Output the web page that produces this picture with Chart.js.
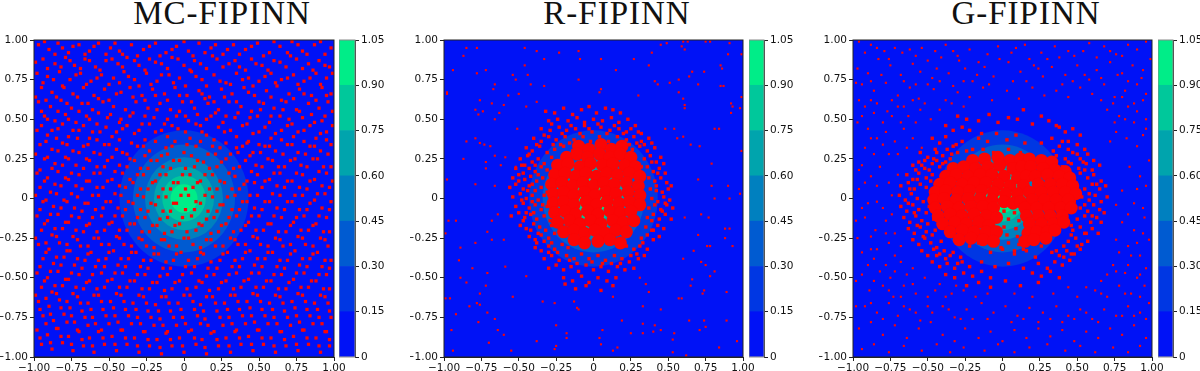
<!DOCTYPE html>
<html>
<head>
<meta charset="utf-8">
<script src="https://cdn.jsdelivr.net/npm/chart.js@4"></script>
<style>
html, body { margin: 0; background: #fff; overflow: hidden; }
canvas { position: absolute; top: 0; }
.ttl { position: absolute; top: -5px; transform: translateX(-50%); font: 33px "Liberation Serif", serif; letter-spacing: 1px; color: #111; white-space: nowrap; }
</style>
</head>
<body>
<script>
const axisTicks = [-1, -0.75, -0.5, -0.25, 0, 0.25, 0.5, 0.75, 1];
const levels = [0, 0.15, 0.3, 0.45, 0.6, 0.75, 0.9, 1.05];
const bandColors = ['#0012f6', '#0037e3', '#005bd1', '#0080bf', '#00a4ad', '#00c89b', '#00ed88'];
// outer radius of the bands above the first one
const ringRadii = [0.43, 0.34, 0.26, 0.2, 0.145, 0.09];

// sample points, x,y pairs in hundredths, estimated by eye (thinned where the picture is too dense to read)
const mcPoints = [
-97,97,-90,94,-84,98,-77,92,-70,97,-63,93,-57,98,-49,95,-41,91,-35,97,-27,94,-19,98,-12,92,-5,96,3,93,10,98,18,95,26,91,33,97,41,94,49,98,57,92,64,96,72,99,79,93,87,97,94,91,
-94,88,-86,85,-79,89,-73,84,-66,88,-59,83,-52,87,-44,85,-38,89,-30,84,-23,88,-15,85,-8,89,0,84,7,87,15,82,22,88,30,85,37,83,45,88,52,84,60,87,68,83,75,88,83,85,90,87,97,83,
-98,79,-91,77,-83,80,-76,75,-69,79,-62,74,-55,78,-47,76,-40,80,-33,75,-25,79,-18,74,-10,78,-3,76,5,80,12,75,20,78,28,73,35,79,43,76,50,74,58,79,65,75,73,78,80,74,88,79,95,76,
-95,70,-88,67,-81,71,-74,66,-67,70,-60,65,-53,69,-45,66,-36,70,-28,65,-21,69,-13,66,-6,70,2,65,10,68,17,64,25,69,32,66,40,70,47,65,55,68,62,71,70,66,77,69,85,65,92,70,98,66,
-97,61,-89,58,-82,62,-75,57,-68,60,-61,56,-54,61,-47,58,-39,56,-32,61,-24,57,-16,60,-9,56,-1,61,7,57,14,63,16,60,23,56,30,61,38,58,45,55,53,60,60,57,68,61,75,56,83,60,90,57,96,61,
-93,52,-86,49,-79,53,-72,48,-65,52,-58,47,-51,51,-43,48,-36,52,-28,47,-20,51,-13,47,-5,52,3,49,11,46,18,52,26,48,34,51,42,47,49,52,57,48,64,52,72,47,79,51,87,48,94,52,
-98,43,-91,40,-84,44,-77,39,-70,43,-63,38,-56,42,-48,39,-41,44,-33,41,-26,37,-19,42,-11,39,-4,44,4,38,12,42,20,37,27,42,35,39,43,36,50,42,58,38,65,43,73,39,80,43,88,38,95,42,
-96,34,-88,31,-81,35,-74,30,-67,33,-60,29,-53,34,-45,31,-38,28,-31,33,-23,30,-15,27,-8,33,0,29,8,33,16,28,24,32,31,28,39,33,46,29,54,33,61,30,69,34,76,29,84,33,91,30,98,34,
-93,25,-86,22,-79,26,-72,21,-65,25,-58,20,-51,24,-43,21,-36,25,-29,19,-22,24,-14,20,-7,24,1,19,9,24,17,19,25,23,33,19,41,24,48,21,56,25,63,20,71,24,78,21,86,25,93,20,
-98,16,-91,13,-84,17,-77,12,-70,15,-63,11,-56,16,-48,12,-41,16,-34,10,-27,15,-19,11,-12,15,-4,10,4,15,11,11,19,15,27,10,34,14,42,11,49,15,57,12,64,16,72,11,79,15,87,12,95,16,
-96,7,-89,4,-82,8,-75,3,-68,6,-61,2,-54,7,-46,3,-39,7,-31,2,-24,6,-17,1,-9,6,-2,2,6,7,14,2,22,6,29,1,37,6,44,2,52,7,59,3,67,7,74,2,82,6,89,3,97,7,
-94,-2,-87,-5,-80,-1,-73,-6,-66,-3,-59,-7,-52,-2,-44,-6,-37,-2,-29,-7,-22,-3,-14,-8,-7,-3,1,-7,8,-2,16,-8,24,-4,32,-7,39,-2,47,-6,54,-2,62,-6,69,-2,77,-7,84,-3,92,-6,98,-2,
-98,-11,-91,-14,-84,-10,-77,-15,-70,-12,-63,-16,-55,-11,-48,-15,-41,-11,-33,-16,-26,-12,-18,-17,-11,-12,-3,-16,5,-11,12,-17,20,-12,28,-16,35,-11,43,-15,50,-11,58,-16,65,-12,73,-15,80,-11,88,-16,95,-12,
-95,-20,-88,-23,-81,-19,-74,-24,-67,-21,-60,-25,-53,-20,-45,-24,-38,-20,-30,-25,-23,-21,-15,-26,-8,-21,0,-25,8,-20,15,-26,23,-21,31,-25,38,-20,46,-24,53,-20,61,-25,68,-21,76,-24,83,-20,91,-25,97,-21,
-97,-29,-90,-32,-83,-28,-76,-33,-69,-30,-62,-34,-55,-29,-47,-33,-40,-29,-32,-34,-25,-30,-17,-35,-10,-30,-2,-34,6,-29,13,-35,21,-30,29,-34,36,-29,44,-33,51,-29,59,-34,66,-30,74,-33,81,-29,89,-34,96,-30,
-94,-38,-87,-41,-80,-37,-73,-42,-66,-39,-59,-43,-52,-38,-44,-42,-37,-38,-29,-43,-22,-39,-14,-44,-7,-39,1,-43,9,-38,16,-44,24,-39,32,-43,39,-38,47,-42,54,-38,62,-43,69,-39,77,-42,84,-38,92,-43,98,-39,
-98,-47,-91,-50,-84,-46,-77,-51,-70,-48,-63,-52,-55,-47,-48,-51,-41,-47,-33,-52,-26,-48,-18,-53,-11,-48,-3,-52,5,-47,12,-53,20,-48,28,-52,35,-47,43,-51,50,-47,58,-52,65,-48,73,-51,80,-47,88,-52,95,-48,
-95,-56,-88,-59,-81,-55,-74,-60,-67,-57,-60,-61,-53,-56,-45,-60,-38,-56,-30,-61,-23,-57,-15,-62,-8,-57,0,-61,8,-56,15,-62,23,-57,31,-61,38,-56,46,-60,53,-56,61,-61,68,-57,76,-60,83,-56,91,-61,97,-57,
-97,-65,-90,-68,-83,-64,-76,-69,-69,-66,-62,-70,-55,-65,-47,-69,-40,-65,-32,-70,-25,-66,-17,-71,-10,-66,-2,-70,6,-65,13,-71,21,-66,29,-70,36,-65,44,-69,51,-65,59,-70,66,-66,74,-69,81,-65,89,-70,96,-66,
-94,-74,-87,-77,-80,-73,-73,-78,-66,-75,-59,-79,-52,-74,-44,-78,-37,-74,-29,-79,-22,-75,-14,-80,-7,-75,1,-79,9,-74,16,-80,24,-75,32,-79,39,-74,47,-78,54,-74,62,-79,69,-75,77,-78,84,-74,92,-79,98,-75,
-98,-83,-91,-86,-84,-82,-77,-87,-70,-84,-63,-88,-55,-83,-48,-87,-41,-83,-33,-88,-26,-84,-18,-89,-11,-84,-3,-88,5,-83,12,-89,20,-84,28,-88,35,-83,43,-87,50,-83,58,-88,65,-84,73,-87,80,-83,88,-88,95,-84,
-95,-92,-88,-95,-81,-91,-74,-96,-67,-93,-60,-97,-53,-92,-45,-96,-38,-92,-30,-97,-23,-93,-15,-98,-8,-93,0,-97,8,-92,15,-98,23,-93,31,-97,38,-92,46,-96,53,-92,61,-97,68,-93,76,-96,83,-92,91,-97,97,-93
];
const mcClumps = [
-93,99,-86,91,-81,95,-74,96,-66,91,-60,96,-52,91,-46,98,-43,93,-31,90,-23,96,-16,90,-8,94,0,99,6,90,14,92,21,97,29,94,37,91,45,96,53,90,60,99,69,92,76,97,82,91,91,99,98,95,
-99,86,-91,82,-82,83,-76,87,-69,82,-63,87,-56,81,-48,88,-41,83,-33,87,-26,81,-19,86,-11,82,-4,88,4,81,11,85,19,90,26,83,34,87,41,81,48,85,56,81,64,86,71,90,79,82,86,81,94,84,
-94,73,-87,75,-80,70,-72,78,-65,72,-58,76,-50,72,-43,73,-37,77,-30,71,-22,72,-15,78,-7,73,1,71,8,77,15,71,24,74,31,72,39,75,46,71,54,77,61,73,69,76,76,72,84,76,91,72,99,79,
-99,64,-92,62,-85,64,-78,60,-71,64,-64,60,-57,63,-50,62,-42,67,-34,64,-26,62,-19,65,-11,62,-3,65,5,61,12,66,20,61,27,64,35,61,43,67,50,61,58,64,65,62,73,63,80,66,88,62,95,65,
-95,55,-91,50,-84,55,-77,50,-70,55,-63,50,-57,54,-49,53,-42,50,-34,54,-26,52,-18,56,-11,50,-3,55,1,52,9,53,15,50,21,54,28,52,36,54,44,51,51,56,58,52,66,56,70,50,77,55,85,53,92,49,99,55,
-95,46,-88,43,-81,47,-74,43,-67,46,-61,42,-52,45,-45,42,-38,46,-30,43,-23,47,-15,43,-8,46,1,42,8,47,15,40,23,45,31,43,39,46,46,41,54,45,61,41,69,46,76,42,84,46,91,41,99,46,
-92,36,-85,38,-78,34,-71,38,-64,34,-58,37,-50,34,-43,37,-35,35,-27,33,-19,36,-12,32,-6,36,2,34,11,36,19,33,28,35,35,32,42,35,50,34,57,33,65,37,72,34,80,36,87,33,95,37,
-99,28,-91,26,-84,30,-77,25,-70,29,-63,24,-56,28,-48,26,-41,29,-33,24,-26,27,-18,24,-11,28,-3,24,5,27,13,23,21,28,28,25,36,29,44,27,51,29,59,24,66,28,74,25,81,28,89,25,96,28,
-96,18,-88,19,-81,21,-75,16,-67,19,-60,16,-53,20,-46,17,-38,20,-31,15,-24,19,-16,15,-9,19,-1,15,7,20,14,15,22,20,30,16,37,20,45,17,52,20,60,16,67,20,75,16,82,20,90,17,98,20,
-93,11,-86,9,-79,13,-72,8,-65,11,-58,7,-51,11,-43,8,-36,12,-29,6,-21,10,-14,6,-7,10,1,6,9,10,17,6,24,11,32,6,40,9,47,10,54,11,62,8,69,11,77,7,84,11,92,8,99,11,
-99,2,-92,-1,-85,3,-78,-2,-71,1,-64,-3,-57,2,-49,-2,-42,2,-34,-3,-27,1,-19,-4,-12,1,-5,-3,3,2,11,-3,19,1,26,-4,34,2,42,-2,49,2,57,-2,64,2,72,-2,79,2,87,-1,94,3,
-96,-7,-89,-10,-82,-6,-75,-11,-68,-8,-61,-12,-54,-6,-46,-11,-39,-7,-31,-12,-24,-8,-16,-13,-9,-8,-1,-12,7,-7,15,-13,22,-8,30,-12,37,-7,45,-11,52,-7,60,-11,67,-7,75,-12,82,-7,90,-11,97,-7,
-93,-16,-86,-19,-79,-15,-72,-20,-65,-17,-58,-21,-50,-16,-43,-20,-36,-16,-28,-21,-21,-17,-13,-22,-6,-17,2,-21,10,-16,18,-22,25,-17,33,-21,41,-17,48,-20,56,-16,63,-21,71,-17,78,-20,86,-17,93,-21,
-99,-25,-92,-28,-85,-24,-78,-29,-71,-26,-64,-30,-57,-25,-50,-29,-43,-25,-35,-30,-28,-26,-20,-31,-13,-26,-5,-30,3,-25,11,-31,18,-26,26,-30,34,-26,41,-29,49,-25,56,-30,64,-26,71,-29,79,-25,86,-30,94,-26,
-92,-34,-85,-37,-78,-33,-71,-38,-64,-35,-57,-39,-50,-34,-42,-38,-35,-34,-27,-39,-20,-35,-12,-40,-5,-35,3,-39,11,-34,18,-40,26,-35,34,-39,41,-34,49,-38,56,-34,64,-39,71,-35,79,-38,86,-35,94,-39,
-96,-43,-89,-46,-82,-42,-75,-47,-68,-44,-61,-48,-53,-43,-46,-47,-39,-43,-31,-48,-24,-44,-16,-49,-9,-44,-1,-48,7,-43,15,-49,22,-44,30,-48,37,-43,45,-47,52,-43,60,-48,67,-44,75,-47,82,-43,90,-48,97,-44,
-93,-52,-86,-55,-79,-51,-72,-56,-65,-53,-58,-57,-51,-52,-43,-56,-36,-52,-28,-57,-21,-53,-13,-58,-6,-53,2,-57,10,-52,17,-58,25,-53,33,-57,40,-52,48,-56,55,-52,63,-57,70,-53,78,-56,85,-52,93,-57,
-99,-61,-92,-63,-85,-60,-78,-65,-71,-62,-64,-66,-57,-61,-49,-65,-42,-61,-34,-66,-27,-62,-19,-67,-12,-62,-4,-66,4,-61,11,-67,19,-62,27,-66,34,-61,42,-65,49,-61,57,-66,64,-62,72,-65,79,-61,87,-66,94,-62,
-96,-70,-89,-73,-82,-69,-75,-74,-68,-71,-61,-75,-54,-70,-46,-74,-39,-70,-31,-75,-24,-71,-16,-76,-9,-71,-1,-75,7,-70,14,-76,22,-71,30,-75,37,-70,45,-74,52,-70,60,-75,67,-71,75,-74,82,-70,90,-75,97,-71,
-92,-79,-85,-82,-78,-78,-71,-83,-64,-80,-57,-84,-50,-79,-42,-83,-35,-79,-27,-84,-20,-80,-12,-85,-5,-80,3,-84,11,-79,18,-85,26,-80,34,-84,41,-79,49,-83,56,-79,64,-84,71,-80,79,-83,86,-79,94,-84,
-96,-88,-89,-91,-82,-87,-75,-92,-68,-89,-61,-93,-54,-88,-46,-92,-39,-88,-31,-93,-24,-89,-16,-94,-9,-89,-1,-93,7,-88,14,-94,22,-89,30,-93,37,-88,45,-92,52,-88,60,-93,67,-89,75,-92,82,-88,90,-93,97,-89
];

const rOutliers = [
-85,95,-78,95,-46,95,-38,93,-23,92,-10,93,-87,90,-33,88,-9,88,5,88,27,88,39,92,45,97,49,98,60,99,63,99,75,99,78,99,91,98,59,96,61,94,90,91,99,91,
-94,81,-78,79,-72,81,-46,84,-44,78,-54,78,-52,75,-10,75,15,81,37,84,66,80,64,77,74,80,85,84,86,82,41,74,43,72,51,73,57,75,70,72,85,71,87,71,
-66,72,-67,69,-42,72,-33,71,5,69,4,67,-98,67,-98,66,-57,65,-50,66,30,65,57,67,60,63,99,64,-76,62,-68,60,-38,61,-45,58,-60,59,-79,56,-74,55,-77,53,-63,54,-66,50,61,59,61,57,92,60,93,58,92,54,98,57,
-51,44,-85,36,-79,38,-76,35,-73,34,-69,33,-66,27,-87,25,-59,26,-62,21,-72,23,-72,19,-52,20,54,44,48,44,60,39,56,38,81,44,84,44,65,34,71,33,99,30,79,22,-98,12,-79,9,-66,8,70,12,79,8,90,8,98,3,91,0,81,0,
-68,-14,-64,-10,-92,-14,-97,-14,72,-10,77,-12,61,-12,-99,-22,-71,-21,-79,-28,-68,-26,-60,-26,-89,-31,-90,-39,-81,-44,-71,-47,-89,-50,-85,-53,-72,-55,-59,-43,-45,-49,
88,-19,91,-19,88,-25,93,-30,78,-30,76,-30,70,-23,67,-33,60,-38,72,-40,75,-42,81,-46,78,-49,66,-51,65,-55,89,-59,74,-58,73,-60,59,-63,37,-59,35,-54,31,-50,13,-62,
-76,-60,-96,-63,-99,-63,-54,-62,-83,-68,-78,-66,-76,-67,-71,-72,-92,-73,-34,-65,-26,-66,-13,-65,-11,-69,-10,-70,33,-68,45,-70,57,-63,-77,-78,-66,-76,-95,-83,-64,-83,-60,-86,-70,-91,-94,-96,-55,-96,-38,-90,-25,-80,-18,-85,-18,-88,-25,-93,-26,-95,
4,-88,6,-83,5,-92,13,-96,16,-94,19,-77,25,-85,33,-79,41,-80,33,-85,40,-84,45,-83,54,-85,53,-89,53,-97,62,-99,64,-77,74,-77,75,-81,71,-83,84,-94,96,-90,89,-77
];
const rHalo = [
-32,55,-26,54,-20,57,-14,53,-8,56,-3,58,2,54,8,57,13,56,18,54,-30,49,-24,50,-17,49,-11,51,-6,48,0,50,6,49,12,51,17,48,23,50,-35,44,-29,43,-23,45,-18,43,-12,44,-6,46,-1,42,5,45,11,43,17,44,22,42,28,46,32,41,
-40,38,-35,36,-30,39,-25,37,-19,39,-13,37,-7,39,-2,36,4,39,10,36,16,39,22,37,27,39,32,36,37,38,30,42,-45,32,-41,30,-36,33,-31,29,-26,31,-20,33,-14,30,-8,32,20,32,26,31,31,33,36,30,41,32,
-49,25,-44,27,-41,23,-37,25,-33,22,-28,26,-25,23,34,25,38,27,42,23,45,26,-52,19,-48,21,-43,19,-39,17,-35,20,-31,18,-28,16,36,20,40,17,44,19,48,16,
-54,13,-50,15,-46,12,-42,14,-38,11,-34,13,-30,10,37,13,41,11,45,13,49,10,52,8,-56,7,-52,9,-47,6,-43,8,-39,5,-35,7,-31,4,38,6,42,8,46,4,50,6,-54,1,-49,3,-45,0,-41,2,-37,-1,-33,2,39,0,43,-2,47,1,51,-1,
-52,-5,-47,-3,-43,-6,-39,-4,-35,-7,-31,-5,37,-6,41,-4,45,-7,49,-4,53,-6,-55,-11,-50,-9,-46,-12,-42,-10,-38,-13,-33,-11,-29,-14,36,-12,40,-10,44,-13,48,-10,52,-13,
-49,-17,-45,-19,-40,-16,-36,-18,-32,-20,-28,-17,35,-18,39,-20,43,-17,47,-19,-43,-24,-39,-26,-35,-23,-30,-25,-26,-22,32,-25,36,-23,40,-26,44,-24,
-39,-31,-35,-33,-30,-30,-26,-32,-21,-29,-17,-31,22,-30,27,-32,31,-30,36,-32,-33,-38,-28,-36,-23,-39,-18,-36,-13,-38,-8,-35,-3,-38,3,-36,8,-39,14,-36,19,-38,25,-36,30,-38,
-30,-44,-25,-42,-20,-45,-15,-43,-10,-46,-5,-42,0,-45,5,-43,10,-46,16,-43,21,-45,27,-44,-20,-50,-14,-52,-8,-49,-3,-53,3,-50,9,-52,15,-50,-19,-54,-12,-57,-5,-55,5,-58,13,-55,
-28,47,-21,41,-15,46,-9,41,-3,44,3,47,9,41,14,46,20,41,25,44,-33,40,-38,34,-27,34,-22,34,-16,35,-10,34,-4,33,7,34,13,33,24,34,29,35,34,34,39,35,-43,28,-39,21,-46,21,-47,16,-41,9,-37,15,32,20,39,23,43,16,47,22,
-50,11,-44,5,-48,-1,-41,-2,-45,-9,-40,-9,-34,-4,42,5,48,-3,46,-8,39,-14,-47,-14,-42,-20,-37,-22,-33,-27,-28,-28,-38,-28,-30,-34,-24,-34,-16,-39,-11,-41,-1,-40,6,-41,12,-41,18,-41,24,-40,33,-28,40,-20,29,-35,34,-36
];
const rCore = [
-10,33,-3,31,5,34,12,31,19,33,
-18,26,-11,28,-4,26,4,28,11,26,18,28,25,26,
-24,21,-17,22,-9,20,-2,22,6,21,13,22,21,21,28,20,
-26,15,-19,16,-12,14,-5,16,2,14,9,16,16,15,24,16,31,14,
-28,9,-21,10,-14,8,-7,10,0,8,7,10,14,9,22,10,30,8,
-27,3,-20,4,-13,2,-6,4,1,2,8,4,15,3,23,4,31,2,
-27,-3,-20,-2,-13,-4,-5,-2,2,-4,9,-2,17,-3,24,-2,31,-4,
-26,-9,-19,-8,-12,-10,-4,-8,3,-10,11,-8,18,-9,25,-8,
-24,-15,-16,-14,-9,-16,-2,-14,5,-16,13,-14,20,-15,27,-14,
-20,-21,-13,-20,-6,-22,1,-20,8,-22,15,-20,22,-21,
-13,-26,-6,-28,3,-27,11,-26,18,-28
];

const gOutliers = [
-96,99,-88,97,-79,93,-72,95,-67,92,-62,94,-54,95,-45,93,-38,97,-30,90,-22,94,-10,91,-3,96,6,92,15,97,26,92,35,96,44,93,58,98,68,96,76,91,84,97,96,99,-97,82,-90,79,-83,88,-75,84,-68,78,-60,85,-55,80,-47,76,-44,82,-36,79,-29,87,-20,74,-12,83,-6,77,4,86,12,80,18,88,27,77,33,83,42,78,50,84,58,75,63,81,72,86,80,79,87,84,93,76,99,88,
-94,72,-86,68,-78,73,-70,65,-62,70,-56,63,-46,69,-38,62,-30,67,-22,64,-13,70,-7,62,3,68,11,63,20,70,28,65,36,68,44,64,52,70,60,66,68,72,75,64,82,68,90,72,96,66,-92,58,-84,60,-77,55,-70,58,-63,52,-55,56,-48,50,84,58,78,52,70,56,90,55,96,50,
-97,48,-90,44,-84,38,-92,32,-86,28,-78,42,-72,36,-66,44,-60,38,-54,32,76,42,83,38,90,33,96,44,72,36,-94,21,-88,14,-82,20,-76,10,-70,15,-96,6,-90,-3,-80,-6,-74,2,85,20,92,14,98,24,80,5,88,-3,96,8,
-92,-12,-85,-20,-78,-14,-72,-22,-97,-25,-88,-32,-84,-32,-76,-28,-68,-30,80,-15,88,-20,95,-12,76,-26,84,-30,92,-36,98,-26,-90,-42,-82,-46,-75,-50,-68,-40,-60,-44,74,-42,82,-47,90,-50,96,-44,70,-48,
-98,-52,-89,-58,-80,-55,-73,-62,-66,-55,-58,-60,-52,-50,-45,-58,-38,-62,-31,-55,62,-58,70,-62,78,-55,86,-60,95,-55,50,-62,-92,-68,-84,-72,-76,-66,-70,-74,-62,-70,-55,-77,-47,-72,-40,-68,-32,-75,-24,-70,-14,-66,-6,-72,2,-68,10,-74,18,-69,27,-72,36,-68,44,-74,52,-70,60,-76,68,-70,76,-74,84,-68,92,-72,98,-66,
-96,-82,-88,-78,-80,-86,-72,-80,-64,-88,-56,-82,-48,-78,-40,-86,-32,-90,-25,-82,-16,-88,-8,-84,0,-90,8,-83,16,-88,24,-82,32,-87,40,-83,48,-90,56,-84,64,-88,72,-82,80,-86,88,-80,96,-88,-94,-95,-86,-92,-76,-97,-66,-93,-54,-96,-44,-92,-35,-97,-26,-94,-12,-96,-3,-92,8,-97,18,-94,30,-92,42,-96,52,-93,62,-97,74,-94,84,-97,92,-93,
-92,92,-84,95,-76,88,-58,90,-50,87,-41,89,-33,93,-25,82,-16,86,-2,88,9,95,21,84,30,88,38,89,48,90,54,93,63,89,72,93,80,90,90,94,-98,73,-88,74,-81,78,-66,74,-58,72,-50,72,-42,74,-33,71,-26,74,-17,78,-9,72,7,74,16,74,24,82,40,72,47,74,55,78,66,76,77,78,84,74,94,81,
-96,62,-88,62,-74,62,-66,58,-60,62,-52,60,-42,56,-34,60,-26,58,66,62,74,60,80,64,88,60,94,62,-94,52,-86,54,-80,48,-74,52,-68,48,-58,48,75,48,82,50,88,48,94,40,-88,38,-80,34,-76,28,-70,28,-64,32,-96,18,-92,10,-84,8,-74,-10,-84,-2,-94,-6,-98,-14,90,6,94,-6,84,-10,76,-4,-88,-24,-78,-22,-94,-34,-72,-36,78,-34,86,-36,90,-28,94,-22,
-86,-38,-78,-42,-72,-46,-64,-48,-94,-48,66,-52,76,-46,84,-42,92,-48,-86,-52,-76,-58,-68,-62,-60,-54,-50,-62,-42,-54,-34,-60,-26,-58,-18,-62,-10,-60,8,-60,20,-62,34,-60,44,-56,56,-56,66,-60,82,-60,92,-62,-98,-68,-88,-66,-80,-76,-66,-68,-58,-72,-50,-68,-36,-70,-28,-76,-20,-76,-10,-76,6,-78,14,-76,24,-78,32,-76,40,-78,48,-76,56,-72,64,-78,80,-74,88,-74,96,-76
];
const gHalo = [
-30,52,-24,50,-16,49,-9,53,-3,48,4,51,10,50,14,56,20,47,26,52,31,49,36,46,-38,46,-33,43,-27,45,-22,43,-14,41,38,45,42,42,47,44,52,40,-47,38,-42,35,-38,39,-33,33,-27,36,-20,31,26,35,33,38,38,33,44,36,50,34,55,31,
-55,29,-50,26,-45,31,-40,27,-35,25,-30,29,36,27,42,25,47,29,52,25,57,28,61,24,-60,21,-56,23,-52,19,-47,22,-42,20,-38,23,40,20,46,22,51,19,56,22,60,18,65,21,-64,15,-60,12,-56,16,-51,13,-47,15,46,14,52,16,57,13,61,15,66,11,-68,8,-63,10,-59,6,-55,9,-51,7,50,8,55,6,60,9,65,6,69,8,
-69,2,-65,-1,-61,3,-57,0,-53,-2,53,1,58,-1,62,2,66,-2,70,1,-68,-5,-64,-8,-60,-4,-56,-7,-51,-9,52,-6,57,-8,61,-4,65,-7,68,-9,-66,-12,-62,-15,-58,-11,-54,-14,-50,-16,50,-13,55,-11,59,-15,63,-12,66,-15,-63,-19,-59,-22,-55,-18,-51,-21,-47,-23,47,-20,52,-18,56,-22,60,-19,64,-22,
-60,-26,-56,-29,-52,-25,-48,-28,-44,-31,44,-27,49,-25,53,-29,57,-27,-54,-33,-50,-36,-46,-32,-42,-35,-38,-38,-33,-34,-28,-37,33,-34,38,-36,43,-33,48,-35,52,-32,-47,-40,-42,-43,-37,-41,-32,-44,-27,-40,-22,-43,24,-41,30,-44,35,-40,40,-42,45,-39,-38,-48,-32,-50,-26,-47,-20,-49,-14,-46,-8,-50,20,-47,26,-49,32,-46,38,-50,-24,-55,-16,-53,-8,-56,2,-52,12,-55,24,-53,
-16,38,-10,36,-4,41,3,37,9,40,15,35,-13,31,-6,29,4,31,12,29,-8,-34,0,-32,8,-35,16,-33,22,-37,-14,-40,-5,-43,4,-41,14,-44,-22,-30,-16,-28,18,-28,26,-30,
-44,29,-37,31,-31,34,-24,30,-52,24,-46,25,-40,22,-34,28,44,31,40,36,34,30,50,28,54,23,44,23,-58,18,-54,21,-49,18,-44,24,-62,6,-57,12,-48,11,48,11,55,18,63,9,58,3,-63,-3,-59,-9,-49,-5,-46,-13,48,-2,55,-4,60,-11,46,-17,-57,-17,-53,-24,-45,-20,-41,-27,41,-30,46,-23,50,-30,55,-22,-44,-36,-39,-33,-35,-36,-30,-41,36,-33,41,-37,46,-35
];
const gCore = [
-20,24,-12,25,-3,26,5,24,12,25,18,25,26,24,33,23,
-33,19,-26,20,-18,19,-10,20,-2,21,7,19,13,20,19,20,27,19,35,18,42,17,
-38,14,-31,15,-23,14,-15,15,-7,15,1,14,10,13,16,14,22,14,30,15,38,14,45,13,
-42,9,-35,10,-27,9,-19,10,-11,10,-3,9,5,8,14,8,24,9,32,9,40,9,47,8,
-45,4,-38,5,-30,4,-22,5,-14,5,-6,4,2,3,10,3,18,4,26,4,34,4,42,4,49,3,
-46,-1,-39,0,-31,-1,-23,0,-15,0,-7,-1,1,-2,7,-3,12,-2,20,-1,28,-1,36,-1,44,-1,
-45,-6,-37,-5,-29,-6,-21,-5,-13,-5,-6,-6,15,-6,23,-6,31,-6,39,-6,46,-6,
-43,-11,-35,-10,-27,-11,-19,-10,-11,-11,-4,-12,16,-11,24,-11,32,-11,40,-11,
-40,-16,-32,-15,-24,-16,-16,-15,-9,-17,18,-16,26,-16,34,-16,41,-15,
-35,-21,-27,-20,-19,-21,-11,-21,-4,-21,17,-22,23,-21,30,-21,35,-20,
-29,-26,-21,-25,-13,-26,-6,-27,15,-27,21,-26,29,-25
];
// thin scatter over the green spot of the G panel
const gSpeckle = [1,-8,8,-9,4,-13,11,-14,1,-18,9,-19,3,-23,10,-24,4,-28,11,-29,-1,-31,8,-33,14,-32];

const panels = [
  { title: 'MC-FIPINN', titleX: 222, plotLeft: 34, plotWidth: 300, barLeft: 339, barWidth: 16, sparse: mcPoints.concat(mcClumps), halo: [], core: [] },
  { title: 'R-FIPINN', titleX: 617, plotLeft: 444, plotWidth: 299, barLeft: 749, barWidth: 15, sparse: rOutliers, halo: rHalo, core: rCore },
  { title: 'G-FIPINN', titleX: 1026, plotLeft: 853, plotWidth: 299, barLeft: 1158, barWidth: 15, sparse: gOutliers, halo: gHalo.concat(gSpeckle), core: gCore }
];

const tickFont = { family: '"DejaVu Sans"', size: 10.5 };
const darkLine = '#222';

function toPoints(flat) {
    var pts = [];
    for (var i = 0; i < flat.length; i += 2) {
        pts.push({ x: flat[i] / 100, y: flat[i + 1] / 100 });
    }
    return pts;
}

function tickText(v) {
    if (v === 0) return '0';
    return (v < 0 ? '\u2212' : '') + Math.abs(v).toFixed(2);
}

function fixedTicks(values) {
    return function (scale) {
        scale.ticks = values.map(function (v) { return { value: v }; });
    };
}

// filled contour rings, placed through the chart's scales
const ringPlugin = {
    id: 'rings',
    beforeDatasetsDraw(chart) {
        var c = chart.ctx, a = chart.chartArea, sx = chart.scales.x, sy = chart.scales.y;
        c.save();
        c.fillStyle = bandColors[0];
        c.fillRect(a.left, a.top, a.width, a.height);
        ringRadii.forEach(function (r, i) {
            c.fillStyle = bandColors[i + 1];
            c.beginPath();
            c.ellipse(sx.getPixelForValue(0), sy.getPixelForValue(0),
                sx.getPixelForValue(r) - sx.getPixelForValue(0),
                sy.getPixelForValue(0) - sy.getPixelForValue(r), 0, 0, Math.PI * 2);
            c.fill();
        });
        c.restore();
    }
};

const framePlugin = {
    id: 'frame',
    afterDraw(chart, args, opts) {
        var c = chart.ctx, a = chart.chartArea;
        c.save();
        c.strokeStyle = opts.color;
        c.lineWidth = 1;
        c.strokeRect(a.left, a.top, a.width, a.height);
        c.restore();
    }
};

function addCanvas(left, width) {
    var cv = document.createElement('canvas');
    cv.width = width;
    cv.height = 371;
    cv.style.left = left + 'px';
    cv.style.width = width + 'px';
    cv.style.height = '371px';
    document.body.appendChild(cv);
    return cv.getContext('2d');
}

function drawField(p) {
    var ctx = addCanvas(p.plotLeft - 34, 34 + p.plotWidth + 22);
    var dot = { backgroundColor: '#fa0505', borderWidth: 0, pointHoverRadius: 0 };
    new Chart(ctx, {
        type: 'scatter',
        data: { datasets: [
            Object.assign({ data: toPoints(p.core), pointRadius: 6.5, pointStyle: 'circle' }, dot),
            Object.assign({ data: toPoints(p.halo), pointRadius: 2.4, pointStyle: 'rect' }, dot),
            Object.assign({ data: toPoints(p.sparse), pointRadius: p.halo.length ? 1.5 : 2.3, pointStyle: 'rect' }, dot)
        ] },
        options: {
            responsive: false,
            animation: false,
            layout: { padding: { top: 40, right: 22, bottom: 0, left: 0 } },
            plugins: { legend: { display: false }, tooltip: { enabled: false }, frame: { color: darkLine } },
            scales: {
                x: {
                    type: 'linear', min: -1, max: 1,
                    afterBuildTicks: fixedTicks(axisTicks),
                    afterFit: function (s) { s.height = 14; },
                    grid: { drawOnChartArea: false, tickLength: 4, color: darkLine },
                    border: { color: darkLine },
                    ticks: { callback: tickText, font: tickFont, color: '#111', padding: 1, maxRotation: 0, autoSkip: false }
                },
                y: {
                    type: 'linear', min: -1, max: 1,
                    afterBuildTicks: fixedTicks(axisTicks),
                    afterFit: function (s) { s.width = 34; },
                    grid: { drawOnChartArea: false, tickLength: 4, color: darkLine },
                    border: { color: darkLine },
                    ticks: { callback: tickText, font: tickFont, color: '#111', padding: 2, autoSkip: false }
                }
            }
        },
        plugins: [ringPlugin, framePlugin]
    });
}

function drawBar(p) {
    var ctx = addCanvas(p.barLeft, p.barWidth + 40);
    new Chart(ctx, {
        type: 'bar',
        data: {
            labels: [''],
            datasets: bandColors.map(function (col, i) {
                return { data: [[levels[i], levels[i + 1]]], backgroundColor: col, barPercentage: 1, categoryPercentage: 1 };
            })
        },
        options: {
            responsive: false,
            animation: false,
            layout: { padding: { top: 40, bottom: 14 } },
            plugins: { legend: { display: false }, tooltip: { enabled: false }, frame: { color: '#8a8a8a' } },
            scales: {
                x: { display: false, stacked: true },
                y: {
                    position: 'right', min: 0, max: 1.05,
                    afterBuildTicks: fixedTicks(levels),
                    afterFit: function (s) { s.width = 40; },
                    grid: { drawOnChartArea: false, tickLength: 4, color: darkLine },
                    border: { color: darkLine },
                    ticks: { callback: tickText, font: tickFont, color: '#111', padding: 2, autoSkip: false }
                }
            }
        },
        plugins: [framePlugin]
    });
}

panels.forEach(function (p) {
    var t = document.createElement('div');
    t.className = 'ttl';
    t.textContent = p.title;
    t.style.left = p.titleX + 'px';
    document.body.appendChild(t);
    drawField(p);
    drawBar(p);
});
</script>
</body>
</html>
